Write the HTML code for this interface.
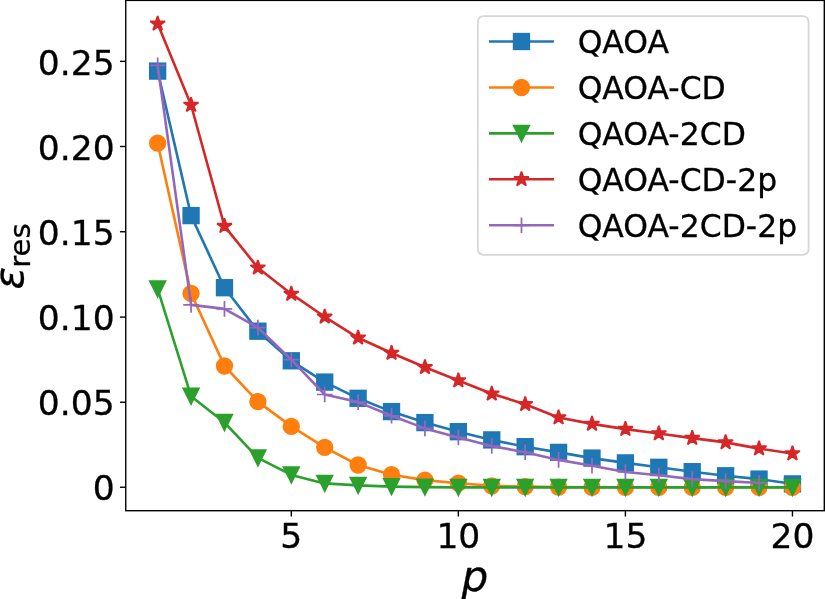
<!DOCTYPE html>
<html><head><meta charset="utf-8"><title>QAOA residual energy</title>
<style>html,body{margin:0;padding:0;background:#fff}body{width:825px;height:599px;overflow:hidden}</style>
</head><body>
<svg width="825" height="599" viewBox="0 0 825 599" style="display:block;font-family:'DejaVu Sans','Liberation Sans',sans-serif" >
<style>text{stroke:#000;stroke-width:0.3px}</style>
<rect width="825" height="599" fill="#fff"/>
<clipPath id="ax"><rect x="125.75" y="0.4" width="698.55" height="510.3"/></clipPath>
<g clip-path="url(#ax)">
<polyline points="157.66,71.10 191.07,215.60 224.48,287.70 257.89,331.20 291.30,360.80 324.71,382.10 358.12,398.30 391.53,411.60 424.94,422.60 458.35,431.70 491.76,439.90 525.17,446.70 558.58,452.40 591.99,458.10 625.40,462.90 658.81,467.30 692.22,471.70 725.63,475.80 759.04,479.10 792.45,483.90" fill="none" stroke="#1f77b4" stroke-width="2.60" stroke-linejoin="round" stroke-linecap="square"/>
<rect x="149.86" y="63.30" width="15.60" height="15.60" fill="#1f77b4" stroke="#1f77b4" stroke-width="1.73" stroke-linejoin="miter"/>
<rect x="183.27" y="207.80" width="15.60" height="15.60" fill="#1f77b4" stroke="#1f77b4" stroke-width="1.73" stroke-linejoin="miter"/>
<rect x="216.68" y="279.90" width="15.60" height="15.60" fill="#1f77b4" stroke="#1f77b4" stroke-width="1.73" stroke-linejoin="miter"/>
<rect x="250.09" y="323.40" width="15.60" height="15.60" fill="#1f77b4" stroke="#1f77b4" stroke-width="1.73" stroke-linejoin="miter"/>
<rect x="283.50" y="353.00" width="15.60" height="15.60" fill="#1f77b4" stroke="#1f77b4" stroke-width="1.73" stroke-linejoin="miter"/>
<rect x="316.91" y="374.30" width="15.60" height="15.60" fill="#1f77b4" stroke="#1f77b4" stroke-width="1.73" stroke-linejoin="miter"/>
<rect x="350.32" y="390.50" width="15.60" height="15.60" fill="#1f77b4" stroke="#1f77b4" stroke-width="1.73" stroke-linejoin="miter"/>
<rect x="383.73" y="403.80" width="15.60" height="15.60" fill="#1f77b4" stroke="#1f77b4" stroke-width="1.73" stroke-linejoin="miter"/>
<rect x="417.14" y="414.80" width="15.60" height="15.60" fill="#1f77b4" stroke="#1f77b4" stroke-width="1.73" stroke-linejoin="miter"/>
<rect x="450.55" y="423.90" width="15.60" height="15.60" fill="#1f77b4" stroke="#1f77b4" stroke-width="1.73" stroke-linejoin="miter"/>
<rect x="483.96" y="432.10" width="15.60" height="15.60" fill="#1f77b4" stroke="#1f77b4" stroke-width="1.73" stroke-linejoin="miter"/>
<rect x="517.37" y="438.90" width="15.60" height="15.60" fill="#1f77b4" stroke="#1f77b4" stroke-width="1.73" stroke-linejoin="miter"/>
<rect x="550.78" y="444.60" width="15.60" height="15.60" fill="#1f77b4" stroke="#1f77b4" stroke-width="1.73" stroke-linejoin="miter"/>
<rect x="584.19" y="450.30" width="15.60" height="15.60" fill="#1f77b4" stroke="#1f77b4" stroke-width="1.73" stroke-linejoin="miter"/>
<rect x="617.60" y="455.10" width="15.60" height="15.60" fill="#1f77b4" stroke="#1f77b4" stroke-width="1.73" stroke-linejoin="miter"/>
<rect x="651.01" y="459.50" width="15.60" height="15.60" fill="#1f77b4" stroke="#1f77b4" stroke-width="1.73" stroke-linejoin="miter"/>
<rect x="684.42" y="463.90" width="15.60" height="15.60" fill="#1f77b4" stroke="#1f77b4" stroke-width="1.73" stroke-linejoin="miter"/>
<rect x="717.83" y="468.00" width="15.60" height="15.60" fill="#1f77b4" stroke="#1f77b4" stroke-width="1.73" stroke-linejoin="miter"/>
<rect x="751.24" y="471.30" width="15.60" height="15.60" fill="#1f77b4" stroke="#1f77b4" stroke-width="1.73" stroke-linejoin="miter"/>
<rect x="784.65" y="476.10" width="15.60" height="15.60" fill="#1f77b4" stroke="#1f77b4" stroke-width="1.73" stroke-linejoin="miter"/>
<polyline points="157.66,143.20 191.07,293.40 224.48,366.00 257.89,401.60 291.30,426.40 324.71,447.30 358.12,465.00 391.53,474.70 424.94,480.10 458.35,483.20 491.76,485.80 525.17,486.60 558.58,487.10 591.99,487.30 625.40,487.30 658.81,487.30 692.22,487.30 725.63,487.30 759.04,487.30 792.45,487.30" fill="none" stroke="#ff7f0e" stroke-width="2.60" stroke-linejoin="round" stroke-linecap="square"/>
<circle cx="157.66" cy="143.20" r="7.80" fill="#ff7f0e" stroke="#ff7f0e" stroke-width="1.73"/>
<circle cx="191.07" cy="293.40" r="7.80" fill="#ff7f0e" stroke="#ff7f0e" stroke-width="1.73"/>
<circle cx="224.48" cy="366.00" r="7.80" fill="#ff7f0e" stroke="#ff7f0e" stroke-width="1.73"/>
<circle cx="257.89" cy="401.60" r="7.80" fill="#ff7f0e" stroke="#ff7f0e" stroke-width="1.73"/>
<circle cx="291.30" cy="426.40" r="7.80" fill="#ff7f0e" stroke="#ff7f0e" stroke-width="1.73"/>
<circle cx="324.71" cy="447.30" r="7.80" fill="#ff7f0e" stroke="#ff7f0e" stroke-width="1.73"/>
<circle cx="358.12" cy="465.00" r="7.80" fill="#ff7f0e" stroke="#ff7f0e" stroke-width="1.73"/>
<circle cx="391.53" cy="474.70" r="7.80" fill="#ff7f0e" stroke="#ff7f0e" stroke-width="1.73"/>
<circle cx="424.94" cy="480.10" r="7.80" fill="#ff7f0e" stroke="#ff7f0e" stroke-width="1.73"/>
<circle cx="458.35" cy="483.20" r="7.80" fill="#ff7f0e" stroke="#ff7f0e" stroke-width="1.73"/>
<circle cx="491.76" cy="485.80" r="7.80" fill="#ff7f0e" stroke="#ff7f0e" stroke-width="1.73"/>
<circle cx="525.17" cy="486.60" r="7.80" fill="#ff7f0e" stroke="#ff7f0e" stroke-width="1.73"/>
<circle cx="558.58" cy="487.10" r="7.80" fill="#ff7f0e" stroke="#ff7f0e" stroke-width="1.73"/>
<circle cx="591.99" cy="487.30" r="7.80" fill="#ff7f0e" stroke="#ff7f0e" stroke-width="1.73"/>
<circle cx="625.40" cy="487.30" r="7.80" fill="#ff7f0e" stroke="#ff7f0e" stroke-width="1.73"/>
<circle cx="658.81" cy="487.30" r="7.80" fill="#ff7f0e" stroke="#ff7f0e" stroke-width="1.73"/>
<circle cx="692.22" cy="487.30" r="7.80" fill="#ff7f0e" stroke="#ff7f0e" stroke-width="1.73"/>
<circle cx="725.63" cy="487.30" r="7.80" fill="#ff7f0e" stroke="#ff7f0e" stroke-width="1.73"/>
<circle cx="759.04" cy="487.30" r="7.80" fill="#ff7f0e" stroke="#ff7f0e" stroke-width="1.73"/>
<circle cx="792.45" cy="487.30" r="7.80" fill="#ff7f0e" stroke="#ff7f0e" stroke-width="1.73"/>
<polyline points="157.66,288.90 191.07,396.20 224.48,422.50 257.89,457.90 291.30,474.90 324.71,483.40 358.12,485.40 391.53,486.60 424.94,487.10 458.35,487.40 491.76,487.40 525.17,487.40 558.58,487.40 591.99,487.40 625.40,487.40 658.81,487.40 692.22,487.40 725.63,487.40 759.04,487.40 792.45,487.40" fill="none" stroke="#2ca02c" stroke-width="2.60" stroke-linejoin="round" stroke-linecap="square"/>
<path d="M157.66,296.70 L149.86,281.10 L165.46,281.10Z" fill="#2ca02c" stroke="#2ca02c" stroke-width="1.73" stroke-linejoin="miter"/>
<path d="M191.07,404.00 L183.27,388.40 L198.87,388.40Z" fill="#2ca02c" stroke="#2ca02c" stroke-width="1.73" stroke-linejoin="miter"/>
<path d="M224.48,430.30 L216.68,414.70 L232.28,414.70Z" fill="#2ca02c" stroke="#2ca02c" stroke-width="1.73" stroke-linejoin="miter"/>
<path d="M257.89,465.70 L250.09,450.10 L265.69,450.10Z" fill="#2ca02c" stroke="#2ca02c" stroke-width="1.73" stroke-linejoin="miter"/>
<path d="M291.30,482.70 L283.50,467.10 L299.10,467.10Z" fill="#2ca02c" stroke="#2ca02c" stroke-width="1.73" stroke-linejoin="miter"/>
<path d="M324.71,491.20 L316.91,475.60 L332.51,475.60Z" fill="#2ca02c" stroke="#2ca02c" stroke-width="1.73" stroke-linejoin="miter"/>
<path d="M358.12,493.20 L350.32,477.60 L365.92,477.60Z" fill="#2ca02c" stroke="#2ca02c" stroke-width="1.73" stroke-linejoin="miter"/>
<path d="M391.53,494.40 L383.73,478.80 L399.33,478.80Z" fill="#2ca02c" stroke="#2ca02c" stroke-width="1.73" stroke-linejoin="miter"/>
<path d="M424.94,494.90 L417.14,479.30 L432.74,479.30Z" fill="#2ca02c" stroke="#2ca02c" stroke-width="1.73" stroke-linejoin="miter"/>
<path d="M458.35,495.20 L450.55,479.60 L466.15,479.60Z" fill="#2ca02c" stroke="#2ca02c" stroke-width="1.73" stroke-linejoin="miter"/>
<path d="M491.76,495.20 L483.96,479.60 L499.56,479.60Z" fill="#2ca02c" stroke="#2ca02c" stroke-width="1.73" stroke-linejoin="miter"/>
<path d="M525.17,495.20 L517.37,479.60 L532.97,479.60Z" fill="#2ca02c" stroke="#2ca02c" stroke-width="1.73" stroke-linejoin="miter"/>
<path d="M558.58,495.20 L550.78,479.60 L566.38,479.60Z" fill="#2ca02c" stroke="#2ca02c" stroke-width="1.73" stroke-linejoin="miter"/>
<path d="M591.99,495.20 L584.19,479.60 L599.79,479.60Z" fill="#2ca02c" stroke="#2ca02c" stroke-width="1.73" stroke-linejoin="miter"/>
<path d="M625.40,495.20 L617.60,479.60 L633.20,479.60Z" fill="#2ca02c" stroke="#2ca02c" stroke-width="1.73" stroke-linejoin="miter"/>
<path d="M658.81,495.20 L651.01,479.60 L666.61,479.60Z" fill="#2ca02c" stroke="#2ca02c" stroke-width="1.73" stroke-linejoin="miter"/>
<path d="M692.22,495.20 L684.42,479.60 L700.02,479.60Z" fill="#2ca02c" stroke="#2ca02c" stroke-width="1.73" stroke-linejoin="miter"/>
<path d="M725.63,495.20 L717.83,479.60 L733.43,479.60Z" fill="#2ca02c" stroke="#2ca02c" stroke-width="1.73" stroke-linejoin="miter"/>
<path d="M759.04,495.20 L751.24,479.60 L766.84,479.60Z" fill="#2ca02c" stroke="#2ca02c" stroke-width="1.73" stroke-linejoin="miter"/>
<path d="M792.45,495.20 L784.65,479.60 L800.25,479.60Z" fill="#2ca02c" stroke="#2ca02c" stroke-width="1.73" stroke-linejoin="miter"/>
<polyline points="157.66,23.80 191.07,105.00 224.48,226.10 257.89,267.70 291.30,293.90 324.71,316.80 358.12,337.80 391.53,353.00 424.94,367.30 458.35,380.50 491.76,393.70 525.17,404.30 558.58,417.50 591.99,423.90 625.40,429.10 658.81,433.50 692.22,438.10 725.63,442.40 759.04,448.60 792.45,453.50" fill="none" stroke="#d62728" stroke-width="2.60" stroke-linejoin="round" stroke-linecap="square"/>
<path d="M157.66,16.00 L155.91,21.39 L150.24,21.39 L154.83,24.72 L153.08,30.11 L157.66,26.78 L162.24,30.11 L160.49,24.72 L165.08,21.39 L159.41,21.39Z" fill="#d62728" stroke="#d62728" stroke-width="1.73" stroke-linejoin="bevel"/>
<path d="M191.07,97.20 L189.32,102.59 L183.65,102.59 L188.24,105.92 L186.49,111.31 L191.07,107.98 L195.65,111.31 L193.90,105.92 L198.49,102.59 L192.82,102.59Z" fill="#d62728" stroke="#d62728" stroke-width="1.73" stroke-linejoin="bevel"/>
<path d="M224.48,218.30 L222.73,223.69 L217.06,223.69 L221.65,227.02 L219.90,232.41 L224.48,229.08 L229.06,232.41 L227.31,227.02 L231.90,223.69 L226.23,223.69Z" fill="#d62728" stroke="#d62728" stroke-width="1.73" stroke-linejoin="bevel"/>
<path d="M257.89,259.90 L256.14,265.29 L250.47,265.29 L255.06,268.62 L253.31,274.01 L257.89,270.68 L262.47,274.01 L260.72,268.62 L265.31,265.29 L259.64,265.29Z" fill="#d62728" stroke="#d62728" stroke-width="1.73" stroke-linejoin="bevel"/>
<path d="M291.30,286.10 L289.55,291.49 L283.88,291.49 L288.47,294.82 L286.72,300.21 L291.30,296.88 L295.88,300.21 L294.13,294.82 L298.72,291.49 L293.05,291.49Z" fill="#d62728" stroke="#d62728" stroke-width="1.73" stroke-linejoin="bevel"/>
<path d="M324.71,309.00 L322.96,314.39 L317.29,314.39 L321.88,317.72 L320.13,323.11 L324.71,319.78 L329.29,323.11 L327.54,317.72 L332.13,314.39 L326.46,314.39Z" fill="#d62728" stroke="#d62728" stroke-width="1.73" stroke-linejoin="bevel"/>
<path d="M358.12,330.00 L356.37,335.39 L350.70,335.39 L355.29,338.72 L353.54,344.11 L358.12,340.78 L362.70,344.11 L360.95,338.72 L365.54,335.39 L359.87,335.39Z" fill="#d62728" stroke="#d62728" stroke-width="1.73" stroke-linejoin="bevel"/>
<path d="M391.53,345.20 L389.78,350.59 L384.11,350.59 L388.70,353.92 L386.95,359.31 L391.53,355.98 L396.11,359.31 L394.36,353.92 L398.95,350.59 L393.28,350.59Z" fill="#d62728" stroke="#d62728" stroke-width="1.73" stroke-linejoin="bevel"/>
<path d="M424.94,359.50 L423.19,364.89 L417.52,364.89 L422.11,368.22 L420.36,373.61 L424.94,370.28 L429.52,373.61 L427.77,368.22 L432.36,364.89 L426.69,364.89Z" fill="#d62728" stroke="#d62728" stroke-width="1.73" stroke-linejoin="bevel"/>
<path d="M458.35,372.70 L456.60,378.09 L450.93,378.09 L455.52,381.42 L453.77,386.81 L458.35,383.48 L462.93,386.81 L461.18,381.42 L465.77,378.09 L460.10,378.09Z" fill="#d62728" stroke="#d62728" stroke-width="1.73" stroke-linejoin="bevel"/>
<path d="M491.76,385.90 L490.01,391.29 L484.34,391.29 L488.93,394.62 L487.18,400.01 L491.76,396.68 L496.34,400.01 L494.59,394.62 L499.18,391.29 L493.51,391.29Z" fill="#d62728" stroke="#d62728" stroke-width="1.73" stroke-linejoin="bevel"/>
<path d="M525.17,396.50 L523.42,401.89 L517.75,401.89 L522.34,405.22 L520.59,410.61 L525.17,407.28 L529.75,410.61 L528.00,405.22 L532.59,401.89 L526.92,401.89Z" fill="#d62728" stroke="#d62728" stroke-width="1.73" stroke-linejoin="bevel"/>
<path d="M558.58,409.70 L556.83,415.09 L551.16,415.09 L555.75,418.42 L554.00,423.81 L558.58,420.48 L563.16,423.81 L561.41,418.42 L566.00,415.09 L560.33,415.09Z" fill="#d62728" stroke="#d62728" stroke-width="1.73" stroke-linejoin="bevel"/>
<path d="M591.99,416.10 L590.24,421.49 L584.57,421.49 L589.16,424.82 L587.41,430.21 L591.99,426.88 L596.57,430.21 L594.82,424.82 L599.41,421.49 L593.74,421.49Z" fill="#d62728" stroke="#d62728" stroke-width="1.73" stroke-linejoin="bevel"/>
<path d="M625.40,421.30 L623.65,426.69 L617.98,426.69 L622.57,430.02 L620.82,435.41 L625.40,432.08 L629.98,435.41 L628.23,430.02 L632.82,426.69 L627.15,426.69Z" fill="#d62728" stroke="#d62728" stroke-width="1.73" stroke-linejoin="bevel"/>
<path d="M658.81,425.70 L657.06,431.09 L651.39,431.09 L655.98,434.42 L654.23,439.81 L658.81,436.48 L663.39,439.81 L661.64,434.42 L666.23,431.09 L660.56,431.09Z" fill="#d62728" stroke="#d62728" stroke-width="1.73" stroke-linejoin="bevel"/>
<path d="M692.22,430.30 L690.47,435.69 L684.80,435.69 L689.39,439.02 L687.64,444.41 L692.22,441.08 L696.80,444.41 L695.05,439.02 L699.64,435.69 L693.97,435.69Z" fill="#d62728" stroke="#d62728" stroke-width="1.73" stroke-linejoin="bevel"/>
<path d="M725.63,434.60 L723.88,439.99 L718.21,439.99 L722.80,443.32 L721.05,448.71 L725.63,445.38 L730.21,448.71 L728.46,443.32 L733.05,439.99 L727.38,439.99Z" fill="#d62728" stroke="#d62728" stroke-width="1.73" stroke-linejoin="bevel"/>
<path d="M759.04,440.80 L757.29,446.19 L751.62,446.19 L756.21,449.52 L754.46,454.91 L759.04,451.58 L763.62,454.91 L761.87,449.52 L766.46,446.19 L760.79,446.19Z" fill="#d62728" stroke="#d62728" stroke-width="1.73" stroke-linejoin="bevel"/>
<path d="M792.45,445.70 L790.70,451.09 L785.03,451.09 L789.62,454.42 L787.87,459.81 L792.45,456.48 L797.03,459.81 L795.28,454.42 L799.87,451.09 L794.20,451.09Z" fill="#d62728" stroke="#d62728" stroke-width="1.73" stroke-linejoin="bevel"/>
<polyline points="157.66,65.40 191.07,304.90 224.48,308.90 257.89,327.60 291.30,359.70 324.71,394.50 358.12,402.10 391.53,415.80 424.94,428.40 458.35,437.40 491.76,446.00 525.17,452.30 558.58,459.90 591.99,465.70 625.40,472.00 658.81,475.30 692.22,479.10 725.63,481.10 759.04,482.90" fill="none" stroke="#9467bd" stroke-width="2.60" stroke-linejoin="round" stroke-linecap="square"/>
<path d="M149.86,65.40 H165.46 M157.66,57.60 V73.20" fill="none" stroke="#9467bd" stroke-width="1.73" stroke-linecap="butt"/>
<path d="M183.27,304.90 H198.87 M191.07,297.10 V312.70" fill="none" stroke="#9467bd" stroke-width="1.73" stroke-linecap="butt"/>
<path d="M216.68,308.90 H232.28 M224.48,301.10 V316.70" fill="none" stroke="#9467bd" stroke-width="1.73" stroke-linecap="butt"/>
<path d="M250.09,327.60 H265.69 M257.89,319.80 V335.40" fill="none" stroke="#9467bd" stroke-width="1.73" stroke-linecap="butt"/>
<path d="M283.50,359.70 H299.10 M291.30,351.90 V367.50" fill="none" stroke="#9467bd" stroke-width="1.73" stroke-linecap="butt"/>
<path d="M316.91,394.50 H332.51 M324.71,386.70 V402.30" fill="none" stroke="#9467bd" stroke-width="1.73" stroke-linecap="butt"/>
<path d="M350.32,402.10 H365.92 M358.12,394.30 V409.90" fill="none" stroke="#9467bd" stroke-width="1.73" stroke-linecap="butt"/>
<path d="M383.73,415.80 H399.33 M391.53,408.00 V423.60" fill="none" stroke="#9467bd" stroke-width="1.73" stroke-linecap="butt"/>
<path d="M417.14,428.40 H432.74 M424.94,420.60 V436.20" fill="none" stroke="#9467bd" stroke-width="1.73" stroke-linecap="butt"/>
<path d="M450.55,437.40 H466.15 M458.35,429.60 V445.20" fill="none" stroke="#9467bd" stroke-width="1.73" stroke-linecap="butt"/>
<path d="M483.96,446.00 H499.56 M491.76,438.20 V453.80" fill="none" stroke="#9467bd" stroke-width="1.73" stroke-linecap="butt"/>
<path d="M517.37,452.30 H532.97 M525.17,444.50 V460.10" fill="none" stroke="#9467bd" stroke-width="1.73" stroke-linecap="butt"/>
<path d="M550.78,459.90 H566.38 M558.58,452.10 V467.70" fill="none" stroke="#9467bd" stroke-width="1.73" stroke-linecap="butt"/>
<path d="M584.19,465.70 H599.79 M591.99,457.90 V473.50" fill="none" stroke="#9467bd" stroke-width="1.73" stroke-linecap="butt"/>
<path d="M617.60,472.00 H633.20 M625.40,464.20 V479.80" fill="none" stroke="#9467bd" stroke-width="1.73" stroke-linecap="butt"/>
<path d="M651.01,475.30 H666.61 M658.81,467.50 V483.10" fill="none" stroke="#9467bd" stroke-width="1.73" stroke-linecap="butt"/>
<path d="M684.42,479.10 H700.02 M692.22,471.30 V486.90" fill="none" stroke="#9467bd" stroke-width="1.73" stroke-linecap="butt"/>
<path d="M717.83,481.10 H733.43 M725.63,473.30 V488.90" fill="none" stroke="#9467bd" stroke-width="1.73" stroke-linecap="butt"/>
<path d="M751.24,482.90 H766.84 M759.04,475.10 V490.70" fill="none" stroke="#9467bd" stroke-width="1.73" stroke-linecap="butt"/>
</g>
<line x1="291.30" x2="291.30" y1="510.70" y2="516.50" stroke="#000" stroke-width="1.39"/>
<text x="291.30" y="547.85" font-size="34.50" text-anchor="middle">5</text>
<line x1="458.35" x2="458.35" y1="510.70" y2="516.50" stroke="#000" stroke-width="1.39"/>
<text x="458.35" y="547.85" font-size="34.50" text-anchor="middle">10</text>
<line x1="625.40" x2="625.40" y1="510.70" y2="516.50" stroke="#000" stroke-width="1.39"/>
<text x="625.40" y="547.85" font-size="34.50" text-anchor="middle">15</text>
<line x1="792.45" x2="792.45" y1="510.70" y2="516.50" stroke="#000" stroke-width="1.39"/>
<text x="792.45" y="547.85" font-size="34.50" text-anchor="middle">20</text>
<line x1="119.95" x2="125.75" y1="487.25" y2="487.25" stroke="#000" stroke-width="1.39"/>
<text x="114.65" y="500.45" font-size="34.50" text-anchor="end">0</text>
<line x1="119.95" x2="125.75" y1="402.25" y2="402.25" stroke="#000" stroke-width="1.39"/>
<text x="114.65" y="415.45" font-size="34.50" text-anchor="end">0.05</text>
<line x1="119.95" x2="125.75" y1="317.10" y2="317.10" stroke="#000" stroke-width="1.39"/>
<text x="114.65" y="330.30" font-size="34.50" text-anchor="end">0.10</text>
<line x1="119.95" x2="125.75" y1="231.75" y2="231.75" stroke="#000" stroke-width="1.39"/>
<text x="114.65" y="244.95" font-size="34.50" text-anchor="end">0.15</text>
<line x1="119.95" x2="125.75" y1="146.50" y2="146.50" stroke="#000" stroke-width="1.39"/>
<text x="114.65" y="159.70" font-size="34.50" text-anchor="end">0.20</text>
<line x1="119.95" x2="125.75" y1="61.35" y2="61.35" stroke="#000" stroke-width="1.39"/>
<text x="114.65" y="74.55" font-size="34.50" text-anchor="end">0.25</text>
<rect x="125.75" y="0.4" width="698.55" height="510.3" fill="none" stroke="#000" stroke-width="1.39" stroke-linejoin="miter"/>
<text x="474.8" y="590.8" font-size="42.10" font-style="italic" text-anchor="middle">p</text>
<text transform="translate(22.7,289.6) rotate(-90)" font-size="41.60"><tspan font-style="italic">ε</tspan><tspan font-size="29.12" dy="7.1" dx="-0.7">res</tspan></text>
<path d="M484.04,16.10 L802.36,16.10 Q808.60,16.10 808.60,22.34 L808.60,248.56 Q808.60,254.80 802.36,254.80 L484.04,254.80 Q477.80,254.80 477.80,248.56 L477.80,22.34 Q477.80,16.10 484.04,16.10Z" fill="#fff" fill-opacity="0.8" stroke="#ccc" stroke-opacity="0.8" stroke-width="1.73"/>
<line x1="490.28" x2="552.68" y1="41.5" y2="41.5" stroke="#1f77b4" stroke-width="2.60" stroke-linecap="square"/>
<rect x="513.68" y="33.70" width="15.60" height="15.60" fill="#1f77b4" stroke="#1f77b4" stroke-width="1.73" stroke-linejoin="miter"/>
<text x="577.64" y="52.75" font-size="31.45">QAOA</text>
<line x1="490.28" x2="552.68" y1="87.5" y2="87.5" stroke="#ff7f0e" stroke-width="2.60" stroke-linecap="square"/>
<circle cx="521.48" cy="87.50" r="7.80" fill="#ff7f0e" stroke="#ff7f0e" stroke-width="1.73"/>
<text x="577.64" y="98.75" font-size="31.45">QAOA-CD</text>
<line x1="490.28" x2="552.68" y1="133.4" y2="133.4" stroke="#2ca02c" stroke-width="2.60" stroke-linecap="square"/>
<path d="M521.48,141.20 L513.68,125.60 L529.28,125.60Z" fill="#2ca02c" stroke="#2ca02c" stroke-width="1.73" stroke-linejoin="miter"/>
<text x="577.64" y="144.65" font-size="31.45">QAOA-2CD</text>
<line x1="490.28" x2="552.68" y1="179.3" y2="179.3" stroke="#d62728" stroke-width="2.60" stroke-linecap="square"/>
<path d="M521.48,171.50 L519.73,176.89 L514.06,176.89 L518.65,180.22 L516.89,185.61 L521.48,182.28 L526.06,185.61 L524.31,180.22 L528.90,176.89 L523.23,176.89Z" fill="#d62728" stroke="#d62728" stroke-width="1.73" stroke-linejoin="bevel"/>
<text x="577.64" y="190.55" font-size="31.45">QAOA-CD-2p</text>
<line x1="490.28" x2="552.68" y1="225.3" y2="225.3" stroke="#9467bd" stroke-width="2.60" stroke-linecap="square"/>
<path d="M513.68,225.30 H529.28 M521.48,217.50 V233.10" fill="none" stroke="#9467bd" stroke-width="1.73" stroke-linecap="butt"/>
<text x="577.64" y="236.55" font-size="31.45">QAOA-2CD-2p</text>
</svg>
</body></html>
